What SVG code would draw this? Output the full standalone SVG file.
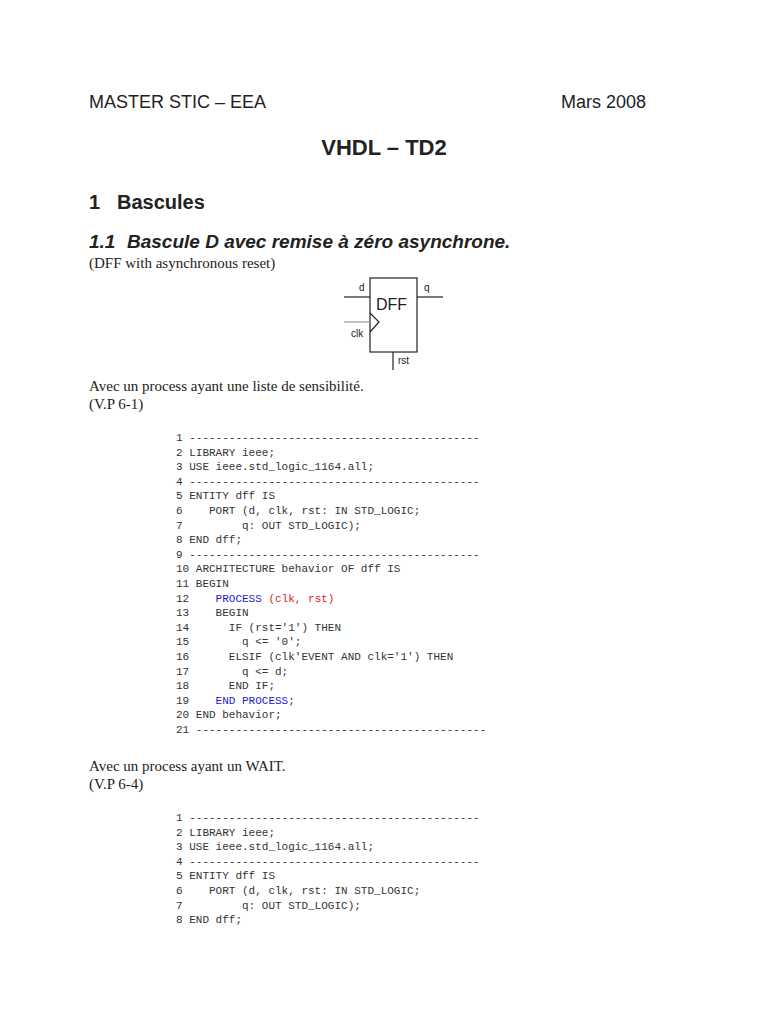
<svg xmlns="http://www.w3.org/2000/svg" width="768" height="1024" viewBox="0 0 768 1024">
<style>
.h{font-family:"Liberation Sans",Arial,sans-serif;fill:#222}
.t{font-family:"Liberation Serif","Times New Roman",serif;font-size:15px;fill:#222}
.c{font-family:"Liberation Mono","Courier New",monospace;font-size:11px;fill:#333;white-space:pre}
.s{font-family:"Liberation Sans",Arial,sans-serif;font-size:10px;fill:#222}
.b{fill:#1a1adb}.r{fill:#e02020}
</style>
<rect width="768" height="1024" fill="#fff"/>
<text class="h" x="89" y="108" font-size="18">MASTER STIC – EEA</text>
<text class="h" x="646" y="108" font-size="18" text-anchor="end">Mars 2008</text>
<text class="h" x="384" y="155" font-size="22" font-weight="bold" text-anchor="middle">VHDL – TD2</text>
<text class="h" x="89" y="209" font-size="20" font-weight="bold">1</text>
<text class="h" x="117" y="209" font-size="20" font-weight="bold">Bascules</text>
<text class="h" x="89" y="248" font-size="19" font-weight="bold" font-style="italic">1.1</text>
<text class="h" x="127" y="248" font-size="19" font-weight="bold" font-style="italic">Bascule D avec remise à zéro asynchrone.</text>
<text class="t" x="89" y="268">(DFF with asynchronous reset)</text>
<g id="dff">
<rect x="370" y="278" width="47" height="74" fill="none" stroke="#222" stroke-width="1.2"/>
<text class="h" x="376" y="310" font-size="16">DFF</text>
<line x1="344" y1="297" x2="370" y2="297" stroke="#222" stroke-width="1.2"/>
<line x1="417" y1="297" x2="443" y2="297" stroke="#222" stroke-width="1.2"/>
<line x1="344" y1="322" x2="370" y2="322" stroke="#999" stroke-width="1.2"/>
<polyline points="370,313 379,322 370,332" fill="none" stroke="#222" stroke-width="1.2"/>
<line x1="393" y1="352" x2="393" y2="370" stroke="#222" stroke-width="1.2"/>
<text class="s" x="359" y="291">d</text>
<text class="s" x="424" y="291">q</text>
<text class="s" x="351" y="337">clk</text>
<text class="s" x="398" y="364">rst</text>
</g>
<text class="t" x="89" y="391">Avec un process ayant une liste de sensibilité.</text>
<text class="t" x="89" y="409">(V.P 6-1)</text>
<g id="code1">
<text class="c" x="176" y="441">1 --------------------------------------------</text>
<text class="c" x="176" y="455.6">2 LIBRARY ieee;</text>
<text class="c" x="176" y="470.2">3 USE ieee.std_logic_1164.all;</text>
<text class="c" x="176" y="484.8">4 --------------------------------------------</text>
<text class="c" x="176" y="499.4">5 ENTITY dff IS</text>
<text class="c" x="176" y="514">6    PORT (d, clk, rst: IN STD_LOGIC;</text>
<text class="c" x="176" y="528.6">7         q: OUT STD_LOGIC);</text>
<text class="c" x="176" y="543.2">8 END dff;</text>
<text class="c" x="176" y="557.8">9 --------------------------------------------</text>
<text class="c" x="176" y="572.4">10 ARCHITECTURE behavior OF dff IS</text>
<text class="c" x="176" y="587">11 BEGIN</text>
<text class="c" x="176" y="601.6">12    <tspan class="b">PROCESS</tspan> <tspan class="r">(clk, rst)</tspan></text>
<text class="c" x="176" y="616.2">13    BEGIN</text>
<text class="c" x="176" y="630.8">14      IF (rst='1') THEN</text>
<text class="c" x="176" y="645.4">15        q &lt;= '0';</text>
<text class="c" x="176" y="660">16      ELSIF (clk'EVENT AND clk='1') THEN</text>
<text class="c" x="176" y="674.6">17        q &lt;= d;</text>
<text class="c" x="176" y="689.2">18      END IF;</text>
<text class="c" x="176" y="703.8">19    <tspan class="b">END PROCESS</tspan>;</text>
<text class="c" x="176" y="718.4">20 END behavior;</text>
<text class="c" x="176" y="733">21 --------------------------------------------</text>
</g>
<text class="t" x="89" y="771">Avec un process ayant un WAIT.</text>
<text class="t" x="89" y="789">(V.P 6-4)</text>
<g id="code2">
<text class="c" x="176" y="821">1 --------------------------------------------</text>
<text class="c" x="176" y="835.6">2 LIBRARY ieee;</text>
<text class="c" x="176" y="850.2">3 USE ieee.std_logic_1164.all;</text>
<text class="c" x="176" y="864.8">4 --------------------------------------------</text>
<text class="c" x="176" y="879.4">5 ENTITY dff IS</text>
<text class="c" x="176" y="894">6    PORT (d, clk, rst: IN STD_LOGIC;</text>
<text class="c" x="176" y="908.6">7         q: OUT STD_LOGIC);</text>
<text class="c" x="176" y="923.2">8 END dff;</text>
</g>
</svg>
